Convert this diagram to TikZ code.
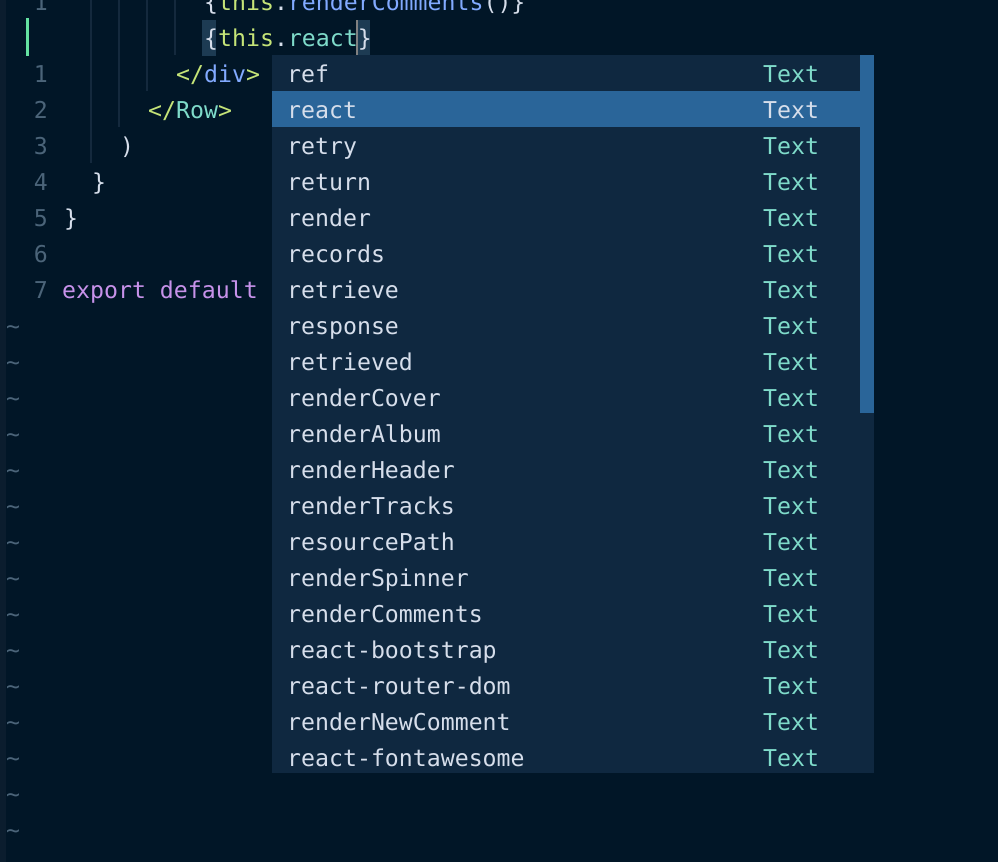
\documentclass[tikz,border=0pt]{standalone}
\usepackage{fontspec}
\setmonofont{DejaVu Sans Mono}[Scale=1]
\definecolor{bgc}{HTML}{011627}
\definecolor{edge}{HTML}{0B1D2E}
\definecolor{popc}{HTML}{0F2840}
\definecolor{selc}{HTML}{2A6599}
\definecolor{txtc}{HTML}{D6DEEB}
\definecolor{kindc}{HTML}{7FDBCA}
\definecolor{numc}{HTML}{4B6479}
\definecolor{yg}{HTML}{C5E478}
\definecolor{blu}{HTML}{82AAFF}
\definecolor{pur}{HTML}{C792EA}
\definecolor{guide}{HTML}{14293D}
\definecolor{brc}{HTML}{1D3B53}
\begin{document}
\begin{tikzpicture}[x=1pt,y=-1pt,
  t/.style={anchor=base west,inner sep=0pt,font=\fontsize{23.2}{24}\ttfamily,text=txtc},
  num/.style={anchor=base east,inner sep=0pt,font=\fontsize{23.2}{24}\ttfamily,text=numc}]
\fill[bgc] (0,0) rectangle (998,862);
\useasboundingbox (0,0) rectangle (998,862);
\fill[edge] (0,0) rectangle (6,862);
% indent guides
\foreach \x/\y in {91/163,119/127,147/91,175/55} \draw[guide,line width=1.2pt] (\x,0) -- (\x,\y);
\fill[kindc!80!green] (26,18) rectangle (29,56);
% brace highlights
\fill[brc] (202,20) rectangle (216,56);
\fill[brc] (357,20) rectangle (370,56);
\fill[gray] (356,20) rectangle (358,56);
% line numbers
\node[num] (n0) at (48,10) {1};
\foreach \i in {1,...,7} \node[num] (n\i) at (48,82+36*\i-36) {\i};
\foreach \i in {1,...,15} \node[t,text=numc] (tl\i) at (6,334+36*\i-36) {\textasciitilde};
% code
\node[t] (c0) at (204,10) {\{\textcolor{yg}{this}.\textcolor{blu}{renderComments}()\}};
\node[t] (c1) at (204,46) {\{\textcolor{yg}{this}.\textcolor{kindc}{react}\}};
\node[t,text=yg] (c2) at (176,82) {</\textcolor{blu}{div}>};
\node[t,text=yg] (c3) at (148,118) {</\textcolor{kindc}{Row}>};
\node[t] (c4) at (120,154) {)};
\node[t] (c5) at (92,190) {\}};
\node[t] (c6) at (64,226) {\}};
\node[t,text=pur] (c7) at (62,298) {export default};
% popup
\fill[popc] (272,55) rectangle (874,773);
\fill[selc] (272,91) rectangle (860,127);
\fill[selc] (860,55) rectangle (874,413);
\foreach [count=\i] \w in {ref,react,retry,return,render,records,retrieve,response,retrieved,renderCover,renderAlbum,renderHeader,renderTracks,resourcePath,renderSpinner,renderComments,react-bootstrap,react-router-dom,renderNewComment,react-fontawesome}{
  \node[t] (w\i) at (287,82+36*\i-36) {\w};
  \ifnum\i=2 \node[t] (k\i) at (763,82+36*\i-36) {Text};
  \else \node[t,text=kindc] (k\i) at (763,82+36*\i-36) {Text};\fi
}
\end{tikzpicture}
\end{document}
